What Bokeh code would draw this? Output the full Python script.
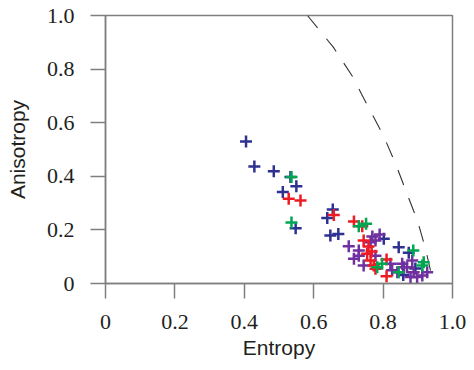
from bokeh.plotting import figure
from bokeh.models import Range1d, FixedTicker
from bokeh.embed import file_html
from bokeh.resources import INLINE

# ---- data ----
ticks = [0, 0.2, 0.4, 0.6, 0.8, 1.0]
tick_labels = ["0", "0.2", "0.4", "0.6", "0.8", "1.0"]

curve_H = [0.582, 0.657, 0.712, 0.755, 0.801, 0.839, 0.873, 0.899, 0.922, 0.945]
curve_A = [1.000, 0.881, 0.772, 0.664, 0.552, 0.437, 0.321, 0.235, 0.131, 0.000]

blue_H = [0.405, 0.429, 0.485, 0.533, 0.550, 0.511, 0.548, 0.655, 0.639, 0.648,
          0.671, 0.802, 0.845, 0.874, 0.858, 0.893]
blue_A = [0.530, 0.437, 0.419, 0.397, 0.363, 0.341, 0.206, 0.276, 0.244, 0.179,
          0.185, 0.167, 0.135, 0.115, 0.032, 0.056]

purple_H = [0.701, 0.716, 0.730, 0.744, 0.730, 0.778, 0.769, 0.790, 0.764, 0.778,
            0.821, 0.826, 0.855, 0.869, 0.884, 0.888, 0.898, 0.913, 0.927, 0.879,
            0.841, 0.860]
purple_A = [0.139, 0.092, 0.123, 0.067, 0.104, 0.160, 0.175, 0.183, 0.154, 0.104,
            0.074, 0.049, 0.074, 0.061, 0.086, 0.042, 0.024, 0.030, 0.042, 0.024,
            0.042, 0.061]

red_H = [0.528, 0.562, 0.658, 0.716, 0.740, 0.744, 0.754, 0.764, 0.773, 0.778,
         0.758, 0.810, 0.810, 0.767]
red_A = [0.316, 0.310, 0.256, 0.231, 0.214, 0.160, 0.111, 0.086, 0.067, 0.055,
         0.138, 0.090, 0.027, 0.119]

green_H = [0.536, 0.536, 0.751, 0.730, 0.783, 0.797, 0.887, 0.845, 0.913, 0.917]
green_A = [0.397, 0.228, 0.223, 0.214, 0.061, 0.074, 0.123, 0.042, 0.067, 0.079]

# ---- figure ----
p = figure(width=466, height=362, output_backend="svg", toolbar_location=None,
           x_range=Range1d(0, 1), y_range=Range1d(0, 1),
           min_border_left=105, min_border_right=14, min_border_top=15, min_border_bottom=79)
p.background_fill_color = "white"
p.border_fill_color = "white"
p.outline_line_color = "#7f7f7f"
p.outline_line_width = 1.5
p.grid.visible = False

p.line(curve_H, curve_A, line_color="#333333", line_width=1.1, line_dash="16 14")

mk = dict(marker="cross", size=12, line_width=2.5)
p.scatter(blue_H, blue_A, line_color="#2e3192", **mk)
p.scatter(purple_H, purple_A, line_color="#7030a0", **mk)
p.scatter(red_H, red_A, line_color="#ed1c24", **mk)
p.scatter(green_H, green_A, line_color="#00a651", **mk)

overrides = dict(zip(ticks, tick_labels))
for ax in (p.xaxis[0], p.yaxis[0]):
    ax.ticker = FixedTicker(ticks=ticks)
    ax.major_label_overrides = overrides
    ax.minor_tick_line_color = None
    ax.major_tick_in = 0
    ax.major_tick_out = 15
    ax.major_tick_line_color = "#7f7f7f"
    ax.major_tick_line_width = 1.5
    ax.axis_line_color = "#7f7f7f"
    ax.axis_line_width = 1.5
    ax.major_label_text_font = "Liberation Serif"
    ax.major_label_text_font_size = "22px"
    ax.major_label_text_color = "#231f20"
    ax.major_label_standoff = 16
    ax.axis_label_text_font = "Liberation Sans"
    ax.axis_label_text_font_size = "21px"
    ax.axis_label_text_font_style = "normal"
    ax.axis_label_text_color = "#231f20"

p.xaxis[0].axis_label = "Entropy"
p.yaxis[0].axis_label = "Anisotropy"
p.xaxis[0].axis_label_standoff = 4
p.yaxis[0].axis_label_standoff = 15
p.yaxis[0].major_label_orientation = "horizontal"

open("out.html", "w").write(file_html(p, INLINE))
